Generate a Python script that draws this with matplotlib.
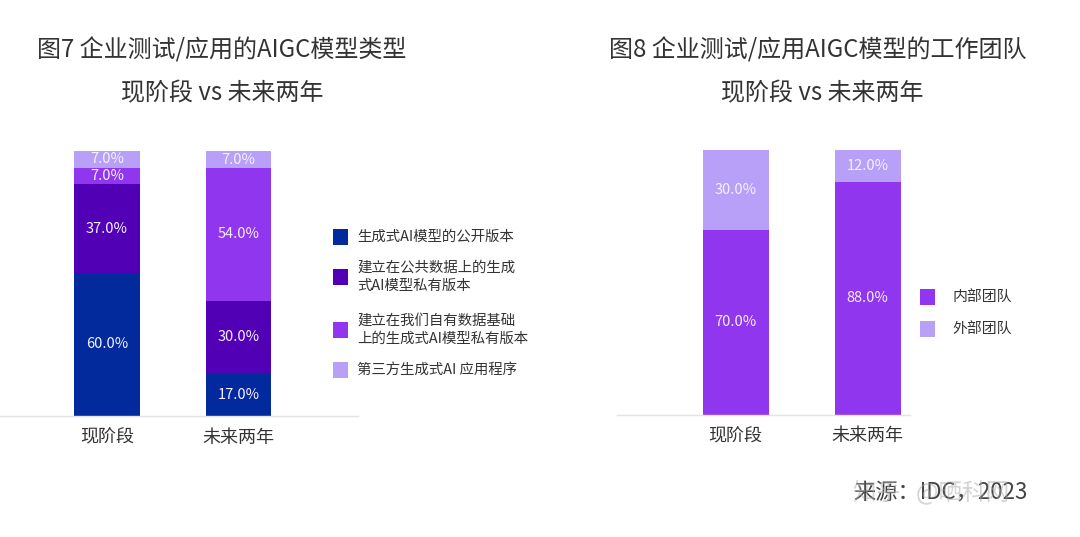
import matplotlib
matplotlib.use("Agg")
import matplotlib.pyplot as plt
from matplotlib.patches import Rectangle
import numpy as np

plt.rcParams['font.family'] = ['Noto Sans CJK SC', 'DejaVu Sans']

# ---- data ----
periods = ['现阶段', '未来两年']

# figure 7: model types (stacked, bottom to top)
model_types = ['生成式AI模型的公开版本', '建立在公共数据上的生成\n式AI模型私有版本',
               '建立在我们自有数据基础\n上的生成式AI模型私有版本', '第三方生成式AI 应用程序']
public_ver = [60.0, 17.0]
public_data_private = [37.0, 30.0]
own_data_private = [7.0, 54.0]
third_party = [7.0, 7.0]

# figure 8: teams
team_types = ['内部团队', '外部团队']
internal_team = [70.0, 88.0]
external_team = [30.0, 12.0]

colors7 = ['#022a9c', '#5200b6', '#8f36ee', '#b8a0f8']
colors8 = ['#8f36ee', '#b8a0f8']
txt = '#333333'

fig = plt.figure(figsize=(10.8, 5.37), dpi=100)
W, H = 1080, 537


def stacked(ax, series, colors):
    x = np.arange(len(periods))
    vals = np.array(series)
    totals = vals.sum(axis=0)
    frac = vals / totals
    bottom = np.zeros(len(periods))
    for i, f in enumerate(frac):
        ax.bar(x, f, 0.5, bottom=bottom, color=colors[i], linewidth=0)
        for j in range(len(periods)):
            ax.text(x[j], bottom[j] + f[j] / 2, f'{vals[i][j]:.1f}%', ha='center', va='center',
                    color='#f6efff', fontsize=10.5)
        bottom += f
    ax.set_ylim(0, 1)
    for s in ['top', 'right', 'left']:
        ax.spines[s].set_visible(False)
    ax.spines['bottom'].set_color('#e3e3e3')
    ax.spines['bottom'].set_linewidth(1.0)
    ax.set_yticks([])
    ax.set_xticks(x)
    ax.set_xticklabels(periods, fontsize=13, color=txt)
    ax.tick_params(axis='x', length=0, pad=9)


# left chart
ax1 = fig.add_axes([0 / W, (H - 416) / H, 358 / W, 265 / H])
stacked(ax1, [public_ver, public_data_private, own_data_private, third_party], colors7)
ax1.set_xlim(-107 / 131.5, (358 - 107) / 131.5)

# right chart
ax2 = fig.add_axes([617 / W, (H - 415) / H, 293 / W, 265 / H])
stacked(ax2, [internal_team, external_team], colors8)
ax2.set_xlim((617 - 735.5) / 132, (910 - 735.5) / 132)

# titles
fig.text(222 / W, 1 - 50 / H, '图7 企业测试/应用的AIGC模型类型', ha='center', va='center',
         fontsize=17.3, color=txt)
fig.text(222 / W, 1 - 93 / H, '现阶段 vs 未来两年', ha='center', va='center',
         fontsize=17.3, color=txt)
fig.text(818 / W, 1 - 50 / H, '图8 企业测试/应用AIGC模型的工作团队', ha='center', va='center',
         fontsize=17.3, color=txt)
fig.text(822 / W, 1 - 93 / H, '现阶段 vs 未来两年', ha='center', va='center',
         fontsize=17.3, color=txt)

# legends
leg7_y = [237, 277, 330, 370]
for c, lab, y in zip(colors7, model_types, leg7_y):
    fig.patches.append(Rectangle((333 / W, 1 - (y + 8) / H), 15 / W, 16 / H,
                                 transform=fig.transFigure, color=c, linewidth=0))
    fig.text(357 / W, 1 - y / H, lab, ha='left', va='center', fontsize=10.4, color=txt,
             linespacing=1.4)

leg8_y = [297, 329]
for c, lab, y in zip(colors8, team_types, leg8_y):
    fig.patches.append(Rectangle((920 / W, 1 - (y + 8) / H), 15 / W, 16 / H,
                                 transform=fig.transFigure, color=c, linewidth=0))
    fig.text(952 / W, 1 - y / H, lab, ha='left', va='center', fontsize=10.7, color=txt)

# source + watermark (overlaid in the original image)
fig.text(853 / W, 1 - 492 / H, '来源：IDC，2023', ha='left', va='center', fontsize=16, color='#444444')
fig.text(853 / W, 1 - 492 / H, '知乎   @晒科网', ha='left', va='center', fontsize=17,
         color='#aaaaaa', alpha=0.5)

fig.savefig('out.png', dpi=100)
